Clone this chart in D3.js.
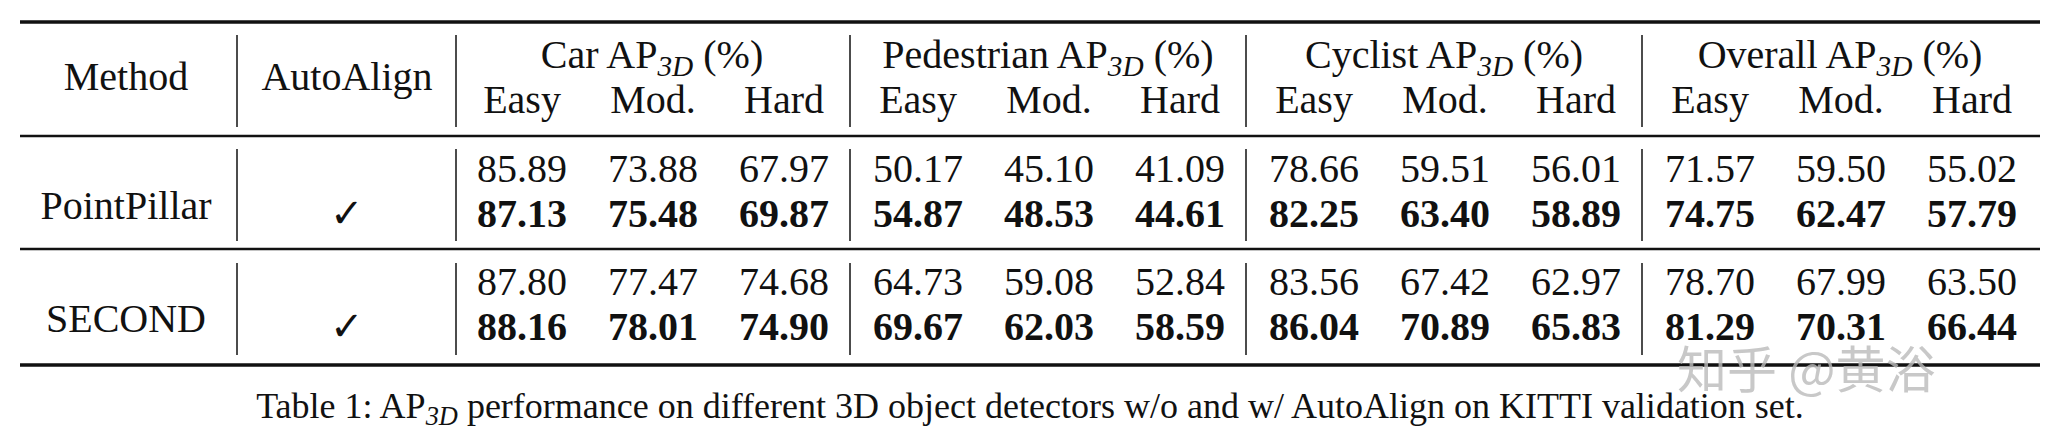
<!DOCTYPE html>
<html><head><meta charset="utf-8">
<script src="https://cdn.jsdelivr.net/npm/d3@7"></script>
<style>body{margin:0;background:#fff}svg{display:block}</style>
</head><body><div id="chart"></div>
<script>
let groups = ["Car", "Pedestrian", "Cyclist", "Overall"];
let levels = ["Easy", "Mod.", "Hard"];
let methods = ["PointPillar", "SECOND"];
// each method: [baseline, with AutoAlign], 12 values (4 groups x 3 levels)
let pointPillar = [
  [85.89, 73.88, 67.97, 50.17, 45.10, 41.09, 78.66, 59.51, 56.01, 71.57, 59.50, 55.02],
  [87.13, 75.48, 69.87, 54.87, 48.53, 44.61, 82.25, 63.40, 58.89, 74.75, 62.47, 57.79]
];
let second = [
  [87.80, 77.47, 74.68, 64.73, 59.08, 52.84, 83.56, 67.42, 62.97, 78.70, 67.99, 63.50],
  [88.16, 78.01, 74.90, 69.67, 62.03, 58.59, 86.04, 70.89, 65.83, 81.29, 70.31, 66.44]
];
let caption = "Table 1: AP";
let captionTail = " performance on different 3D object detectors w/o and w/ AutoAlign on KITTI validation set.";

const SERIF = "'Liberation Serif', 'Times New Roman', Times, serif";
let dim = {width: 2048, height: 446};
let svg = d3.select('#chart').append('svg').attr('width', dim.width).attr('height', dim.height)
  .attr('fill', '#111');

let gx = d3.scaleBand().domain(groups).range([456, 2040]);
let lx = d3.scalePoint().domain(levels).range([66, 328]);
let rowY = d3.scaleOrdinal().domain(methods).range([[182, 227], [295, 340]]);
let fs = 40, base = 30; // draw at 30px and scale up (large sizes fell back to sans)

// rules
[[22, 3.5], [136, 2.5], [249, 2.5], [365, 3.5]].forEach(([y, w]) =>
  svg.append('line').attr('x1', 20).attr('x2', 2040).attr('y1', y).attr('y2', y)
    .attr('stroke', '#111').attr('stroke-width', w));
let vx = [237, 456].concat(groups.slice(1).map(g => gx(g) - 2));
[[35, 127], [149, 241], [263, 355]].forEach(([a, b]) =>
  vx.forEach(x => svg.append('line').attr('x1', x).attr('x2', x).attr('y1', a).attr('y2', b)
    .attr('stroke', '#111').attr('stroke-width', 1.5)));

function txt(x, y, s, opt = {}) {
  let k = (opt.size || fs) / base;
  let t = svg.append('text').attr('transform', `translate(${x},${y}) scale(${k})`)
    .attr('text-anchor', 'middle')
    .style('font-family', SERIF).style('font-size', base + 'px').text(s);
  if (opt.bold) t.style('font-weight', 'bold');
  return t;
}
function sub(el, pre, post) {
  el.append('tspan').text(pre);
  el.append('tspan').style('font-size', '22px').style('font-style', 'italic').attr('dy', 6).text('3D');
  el.append('tspan').attr('dy', -6).text(post);
}

txt(126, 90, 'Method');
txt(347, 90, 'AutoAlign');
groups.forEach(g => {
  sub(txt(gx(g) + gx.bandwidth() / 2 - 2, 68, null), g + ' AP', ' (%)');
  levels.forEach(l => txt(gx(g) + lx(l), 113, l));
});

let tableData = [pointPillar, second];
methods.forEach((m, mi) => {
  let [y0, y1] = rowY(m);
  txt(126, (y0 + y1) / 2 + 14, m);
  txt(347, y1, '\u2713', {size: 40}).style('font-family', "'DejaVu Serif', serif");
  tableData[mi].forEach((row, ri) => row.forEach((v, i) => {
    let g = groups[Math.floor(i / 3)], l = levels[i % 3];
    txt(gx(g) + lx(l), ri ? y1 : y0, v.toFixed(2), {bold: ri === 1});
  }));
});

// caption
sub(txt(1030, 418, null, {size: 36}), caption, captionTail);

// watermark
svg.append('text').attr('x', 1677).attr('y', 388).style('font-size', '50px')
  .style('font-family', "'Noto Sans CJK SC', sans-serif").attr('fill', '#bbb').attr('opacity', 0.8)
  .text('知乎 @黄浴');
</script></body></html>
